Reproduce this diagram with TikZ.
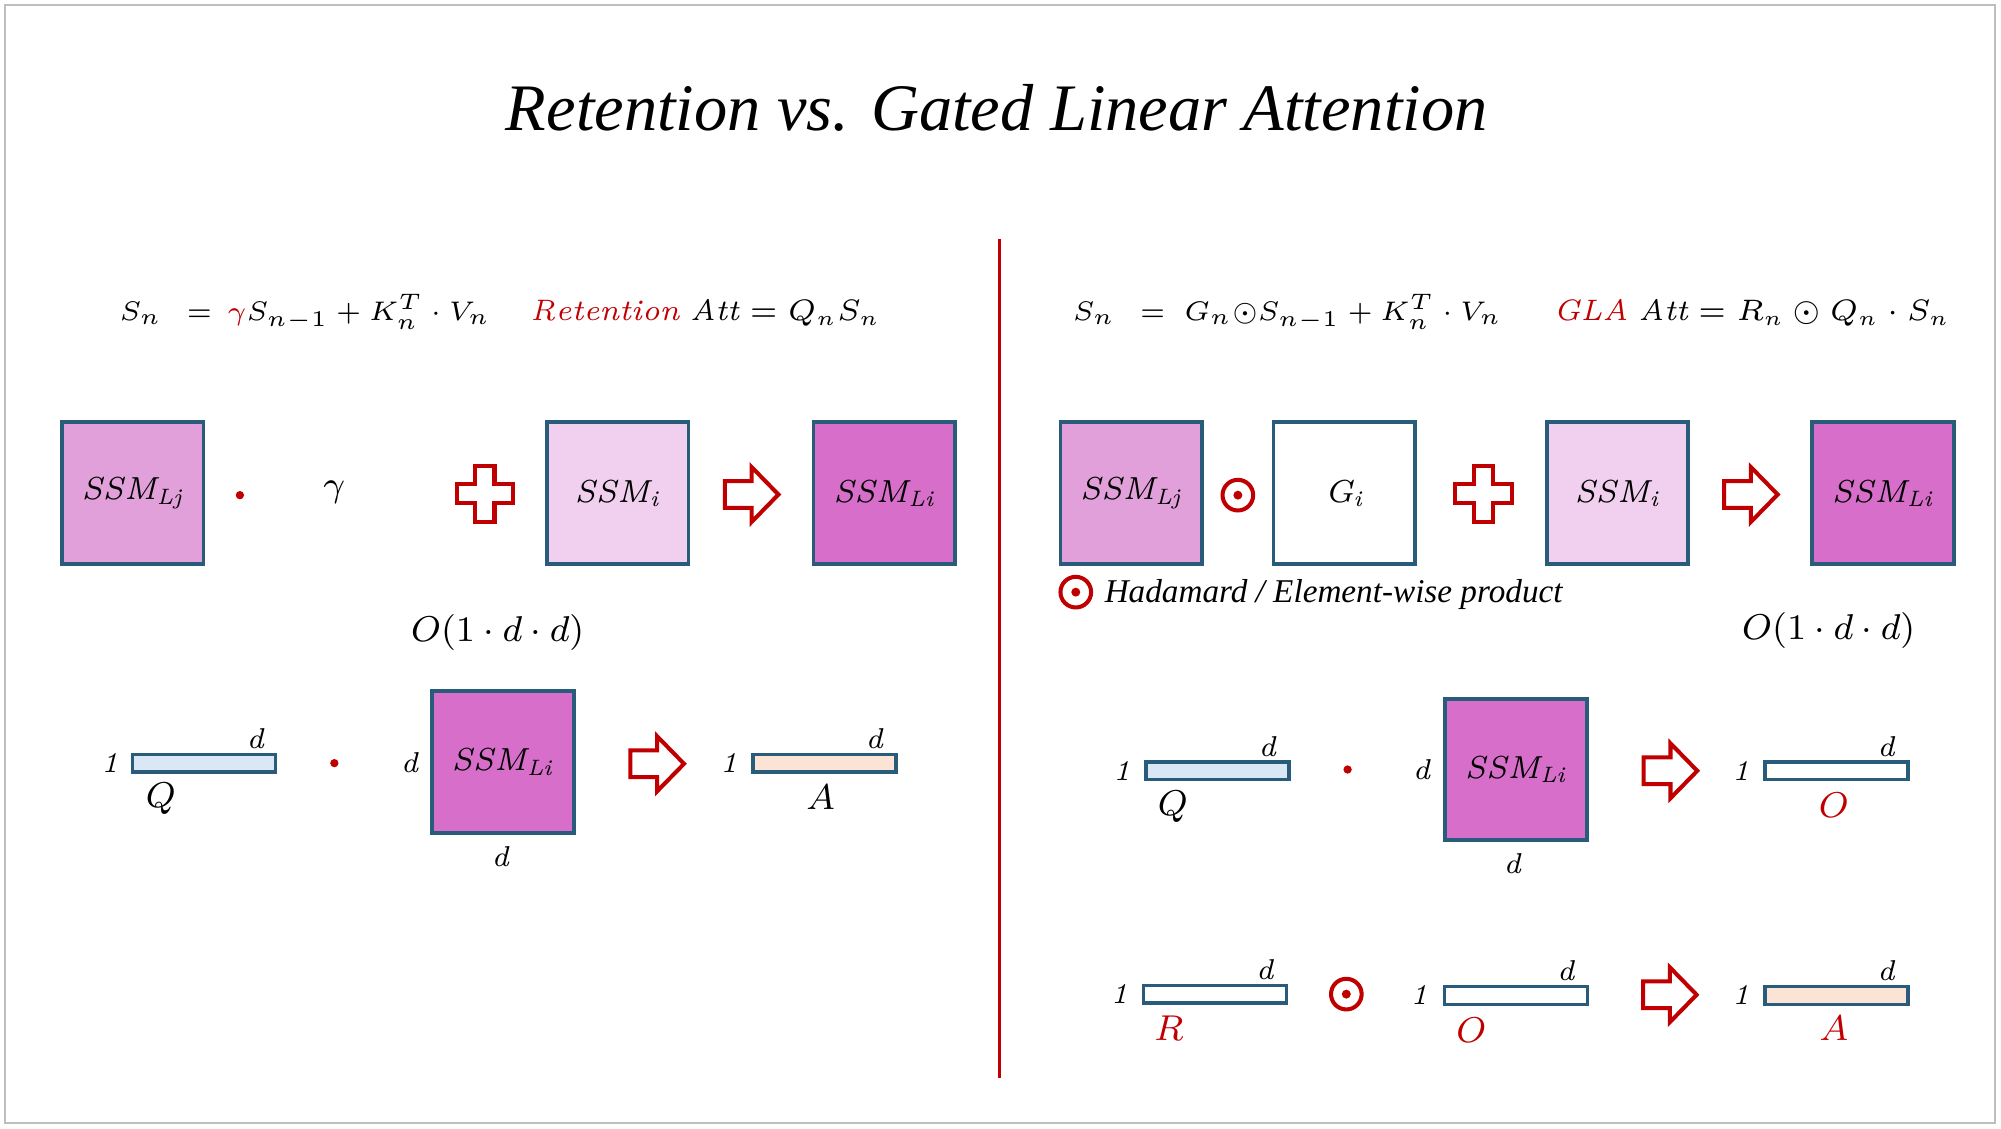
\RequirePackage{fix-cm}
\documentclass[tikz,border=0pt]{standalone}
\usepackage{amsmath}
\usepackage{fontspec}
\newfontfamily\titlefont{Liberation Serif}
\usetikzlibrary{positioning}

\definecolor{gred}{RGB}{192,0,0}
\definecolor{boxline}{RGB}{40,92,122}
\definecolor{ssmlj}{RGB}{226,160,219}
\definecolor{ssmi}{RGB}{240,208,238}
\definecolor{ssmli}{RGB}{215,110,202}
\definecolor{qfill}{RGB}{218,232,246}
\definecolor{afill}{RGB}{251,228,213}
\definecolor{framegray}{RGB}{190,190,190}

\tikzset{
  ssm/.style={draw=boxline, line width=0.85pt, minimum width=1.11cm, minimum height=1.11cm,
    inner sep=0pt, font=\fontsize{7.1}{9}\selectfont},
  vecbar/.style={draw=boxline, line width=0.75pt, fill=white, minimum width=1.12cm,
    minimum height=0.14cm, inner sep=0pt},
  dimlab/.style={font=\fontsize{6.4}{7}\selectfont\itshape, inner sep=0pt},
  veclab/.style={font=\fontsize{8}{9}\selectfont, inner sep=0pt},
  eqn/.style={font=\fontsize{6}{8}\selectfont, inner sep=0pt},
  atteq/.style={font=\fontsize{6.6}{8}\selectfont, inner sep=0pt},
  cost/.style={font=\fontsize{8}{10}\selectfont, inner sep=0pt},
  mdot/.style={circle, fill=gred, minimum size=0.065cm, inner sep=0pt},
  hada/.style={circle, draw=gred, line width=0.9pt, minimum size=0.24cm, inner sep=0pt,
    path picture={\fill[gred] (path picture bounding box.center) circle (0.035cm);}},
  redline/.style={draw=gred, line width=0.9pt, fill=white, line join=miter},
  plussign/.pic={
    \draw[redline] (-7.5,-22) -- (7.5,-22) -- (7.5,-7.5) -- (22,-7.5) -- (22,7.5) -- (7.5,7.5)
      -- (7.5,22) -- (-7.5,22) -- (-7.5,7.5) -- (-22,7.5) -- (-22,-7.5) -- (-7.5,-7.5) -- cycle;
    \coordinate (-c) at (0,0);
  },
  blockarrow/.pic={
    \draw[redline] (-21,-10.5) -- (0,-10.5) -- (0,-21.5) -- (21,0) -- (0,21.5) -- (0,10.5)
      -- (-21,10.5) -- cycle;
    \coordinate (-c) at (0,0);
  },
}

\begin{document}
\begin{tikzpicture}[x=0.01cm, y=-0.01cm]
  \useasboundingbox (0,0) rectangle (1568,884);
  \draw[framegray, line width=0.5pt] (4,4) rectangle (1563,880);
  % title
  \node[font={\fontsize{14.8}{18}\selectfont\titlefont\itshape}, anchor=base] (title) at (781,102)
    {Retention vs. Gated Linear Attention};
  % divider
  \coordinate (divtop) at (783,187);
  \coordinate (divbot) at (783,845);
  \draw[gred, line width=0.6pt] (divtop) -- (divbot);

  % ---- Retention (left) ----
  \node[eqn, anchor=base west] (reteq) at (93,251)
    {$S_n\;\,=\,{\color{gred}\gamma}S_{n-1}+K_n^T\cdot V_n$};
  \node[atteq, anchor=base west] (retatt) at (415,251)
    {${\color{gred}\mathit{Retention}}\;\mathit{Att}=Q_nS_n$};
  % state update
  \node[ssm, fill=ssmlj] (rlj) at (104,386.5) {$\mathit{SSM}_{\mathit{Lj}}$};
  \node[mdot] (rdot) at (188,388) {};
  \node[veclab] (rgamma) at (262,386) {$\gamma$};
  \pic (rplus) at (380,387) {plussign};
  \node[ssm, fill=ssmi] (rsi) at (484,386.5) {$\mathit{SSM}_{\mathit{i}}$};
  \pic (rarr) at (589,387.5) {blockarrow};
  \node[ssm, fill=ssmli] (rli) at (693,386.5) {$\mathit{SSM}_{\mathit{Li}}$};
  \node[cost] (rcost) at (390,496) {$O(1\cdot d\cdot d)$};
  % output
  \node[vecbar, fill=qfill] (rq) at (160,598) {};
  \node[dimlab] at (86,598) {1};
  \node[dimlab] at (200,579) {d};
  \node[veclab] (rqlab) at (126,626) {$Q$};
  \node[mdot] (rdot2) at (262,598) {};
  \node[dimlab] at (321,598) {d};
  \node[ssm, fill=ssmli] (rli2) at (394,597) {$\mathit{SSM}_{\mathit{Li}}$};
  \node[dimlab] at (392,671) {d};
  \pic (rarr2) at (515,598.5) {blockarrow};
  \node[dimlab] at (571,598) {1};
  \node[vecbar, fill=afill] (ra) at (646,598) {};
  \node[dimlab] at (685,579) {d};
  \node[veclab] (ralab) at (643,625) {$A$};

  % ---- GLA (right) ----
  \node[eqn, anchor=base west] (glaeq) at (840,251)
    {$S_n\;\,=\;G_n{\odot}S_{n-1}+K_n^T\cdot V_n$};
  \node[atteq, anchor=base west] (glaatt) at (1217,251)
    {${\color{gred}\mathit{GLA}}\;\mathit{Att}=R_n\odot Q_n\cdot S_n$};
  % state update
  \node[ssm, fill=ssmlj] (glj) at (886.5,386.5) {$\mathit{SSM}_{\mathit{Lj}}$};
  \node[hada] (ghad) at (970,388) {};
  \node[ssm, fill=white] (ggate) at (1053.5,386.5) {$\mathit{G}_{\mathit{i}}$};
  \pic (gplus) at (1162.5,387) {plussign};
  \node[ssm, fill=ssmi] (gsi) at (1267.5,386.5) {$\mathit{SSM}_{\mathit{i}}$};
  \pic (garr) at (1372,387.5) {blockarrow};
  \node[ssm, fill=ssmli] (gli) at (1475.5,386.5) {$\mathit{SSM}_{\mathit{Li}}$};
  % legend
  \node[hada] (leghad) at (843,464) {};
  \node[font={\fontsize{7.4}{9}\selectfont\titlefont\itshape}, anchor=base west, inner sep=0pt]
    (legtxt) at (865,472) {Hadamard / Element-wise product};
  \node[cost] (gcost) at (1433,494) {$O(1\cdot d\cdot d)$};
  % output before gating
  \node[vecbar, fill=qfill] (gq) at (954,604) {};
  \node[dimlab] at (879,604) {1};
  \node[dimlab] at (993,585) {d};
  \node[veclab] (gqlab) at (919,632) {$Q$};
  \node[mdot] (gdot) at (1056,603) {};
  \node[dimlab] at (1114,603) {d};
  \node[ssm, fill=ssmli] (gli2) at (1188,603) {$\mathit{SSM}_{\mathit{Li}}$};
  \node[dimlab] at (1185,677) {d};
  \pic (garr2) at (1309,604) {blockarrow};
  \node[dimlab] at (1364,604) {1};
  \node[vecbar] (go) at (1439,604) {};
  \node[dimlab] at (1478,585) {d};
  \node[veclab, text=gred] (golab) at (1437,631) {$O$};
  % gating
  \node[vecbar] (gr) at (952,779) {};
  \node[dimlab] at (877,779) {1};
  \node[dimlab] at (991,760) {d};
  \node[veclab, text=gred] (grlab) at (916,806) {$R$};
  \node[hada] (ghad2) at (1055,779) {};
  \node[dimlab] at (1112,780) {1};
  \node[vecbar] (go2) at (1188,780) {};
  \node[dimlab] at (1227,761) {d};
  \node[veclab, text=gred] (go2lab) at (1153,807) {$O$};
  \pic (garr3) at (1308.5,779.5) {blockarrow};
  \node[dimlab] at (1364,780) {1};
  \node[vecbar, fill=afill] (ga) at (1439,780) {};
  \node[dimlab] at (1478,761) {d};
  \node[veclab, text=gred] (galab) at (1437,806) {$A$};
\end{tikzpicture}
\end{document}
